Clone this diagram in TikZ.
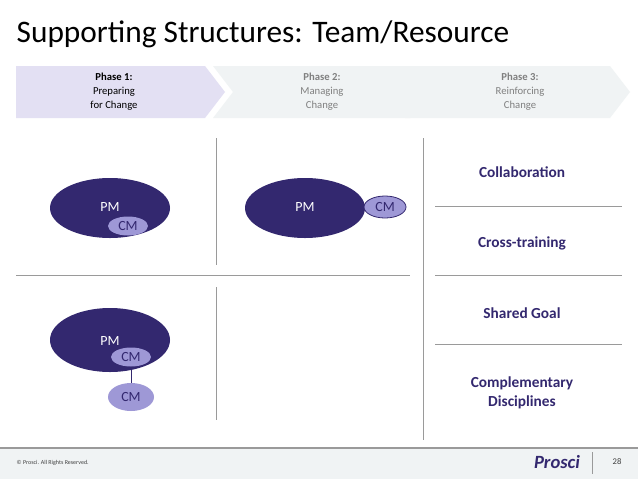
\documentclass[tikz,border=0pt]{standalone}
\usepackage{fontspec}
\setmainfont{Carlito}
\definecolor{dk}{HTML}{33286F}
\definecolor{lt}{HTML}{9E98D6}
\definecolor{ph1}{HTML}{E3E0F3}
\definecolor{ph}{HTML}{F0F3F4}
\definecolor{ln}{HTML}{9A9A9A}
\begin{document}
\begin{tikzpicture}[x=0.75pt,y=-0.75pt,
  sep/.style={draw=ln,line width=0.6pt},
  el/.style={font=\fontsize{10.5}{12}\selectfont},
  lbl/.style={font=\fontsize{11.5}{14}\selectfont\bfseries,text=dk,align=center}]
\useasboundingbox (0,0) rectangle (638,479);
\fill[white] (0,0) rectangle (638,479);
\fill[ph] (0,448) rectangle (638,479);
\draw[ln,line width=0.8pt] (0,448) -- (638,448);
\node[anchor=west,font=\fontsize{23.5}{28}\selectfont] (title) at (12,34) {Supporting Structures: Team/Resource};
% chevrons
\fill[ph] (405,66) -- (610,66) -- (630,92) -- (610,118) -- (405,118) -- (425,92) -- cycle;
\fill[ph] (213,66) -- (410,66) -- (430,92) -- (410,118) -- (213,118) -- (233,92) -- cycle;
\fill[ph1] (16,66) -- (205,66) -- (225,92) -- (205,118) -- (16,118) -- cycle;
\node[font=\fontsize{8}{10.5}\selectfont,align=center] (p1) at (114,92) {\textbf{Phase 1:}\\Preparing\\for Change};
\node[font=\fontsize{8}{10.5}\selectfont,align=center,text=gray] (p2) at (322,92) {\textbf{Phase 2:}\\Managing\\Change};
\node[font=\fontsize{8}{10.5}\selectfont,align=center,text=gray] (p3) at (520,92) {\textbf{Phase 3:}\\Reinforcing\\Change};
% separators
\draw[sep] (216,138) -- (216,265);
\draw[sep] (216,287) -- (216,420);
\draw[sep] (16,275) -- (410,275);
\draw[sep] (423,138) -- (423,440);
\draw[sep] (435,206) -- (622,206);
\draw[sep] (435,275) -- (622,275);
\draw[sep] (435,344) -- (622,344);
% ellipses
\fill[dk] (110,208) ellipse (60 and 30);
\node[text=white,el] (pm1) at (110,207) {PM};
\fill[lt] (128,226) ellipse (20 and 9.5);
\node[text=dk,el] (cm1) at (128,226) {CM};
\fill[dk] (305,208) ellipse (60 and 30);
\node[text=white,el] (pm2) at (305,207) {PM};
\filldraw[fill=lt,draw=dk,line width=0.6pt] (385,207) ellipse (21 and 11);
\node[text=dk,el] (cm2) at (385,207) {CM};
\fill[dk] (110,340) ellipse (60 and 32);
\node[text=white,el] (pm3) at (110,341) {PM};
\fill[lt] (131,357) ellipse (20 and 9.5);
\node[text=dk,el] (cm3) at (131,357) {CM};
\draw[dk,line width=0.6pt] (131,366.5) -- (131,384);
\fill[lt] (131,397) ellipse (23 and 14);
\node[text=dk,el] (cm4) at (131,397) {CM};
% right labels
\node[lbl] (r1) at (522,172) {Collaboration};
\node[lbl] (r2) at (522,243) {Cross-training};
\node[lbl] (r3) at (522,313) {Shared Goal};
\node[lbl] (r4) at (522,393) {Complementary\\Disciplines};
% footer
\node[anchor=west,font=\fontsize{4.5}{5}\selectfont,text=darkgray] (copy) at (12,463) {© Prosci. All Rights Reserved.};
\node[font=\fontsize{14}{16}\selectfont\bfseries\itshape,text=dk] (logo) at (557,462) {Prosci};
\draw[ln] (592,452) -- (592,474);
\node[font=\fontsize{6.5}{8}\selectfont,text=darkgray] (num) at (617,462) {28};
\end{tikzpicture}
\end{document}
